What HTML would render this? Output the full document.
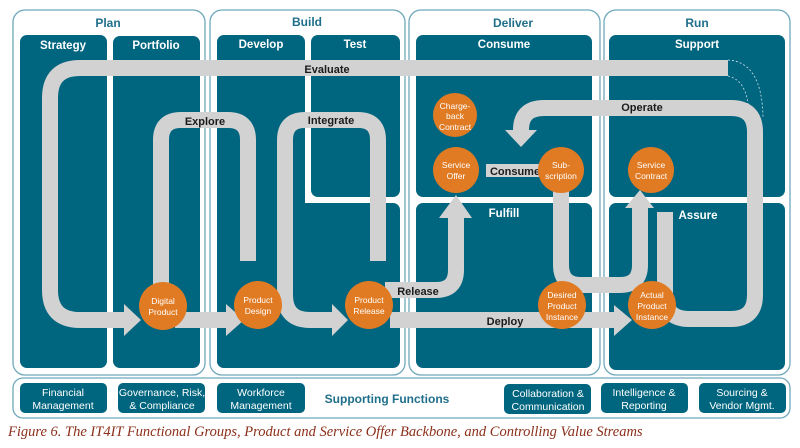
<!DOCTYPE html>
<html><head><meta charset="utf-8"><style>
body{margin:0;background:#fff;}
svg{display:block;}
.h{font-family:"Liberation Sans",sans-serif;font-weight:bold;font-size:12px;fill:#1f6f8b;text-anchor:middle;}
.p{font-family:"Liberation Sans",sans-serif;font-weight:bold;font-size:11.5px;fill:#fff;text-anchor:middle;}
.l{font-family:"Liberation Sans",sans-serif;font-weight:bold;font-size:11px;fill:#1a1a1a;text-anchor:middle;}
.c{font-family:"Liberation Sans",sans-serif;font-size:8.5px;fill:#fff;text-anchor:middle;}
.s{font-family:"Liberation Sans",sans-serif;font-size:10.5px;fill:#fff;text-anchor:middle;}
.band{fill:none;stroke:#d2d2d2;stroke-width:16;}
</style></head><body>
<svg width="800" height="448" viewBox="0 0 800 448">
<!-- group boxes -->
<g fill="#fff" stroke="#6fa9bb" stroke-width="1.3">
<rect x="13" y="10" width="192" height="140" rx="12" ry="12" style="display:none"/>
<rect x="13" y="10" width="192" height="365" rx="12"/>
<rect x="210" y="10" width="195" height="365" rx="12"/>
<rect x="409" y="10" width="191" height="365" rx="12"/>
<rect x="604" y="10" width="186" height="365" rx="12"/>
<rect x="13" y="378" width="777" height="40" rx="10"/>
</g>
<text class="h" x="108" y="27">Plan</text>
<text class="h" x="307" y="26">Build</text>
<text class="h" x="513" y="27">Deliver</text>
<text class="h" x="697" y="27">Run</text>
<!-- panels -->
<g fill="#00657e">
<rect x="20" y="35" width="87" height="333" rx="7"/>
<rect x="113" y="36" width="87" height="332" rx="7"/>
<rect x="217" y="35" width="88" height="333" rx="7"/>
<rect x="217" y="203" width="183" height="165" rx="7"/>
<rect x="311" y="35" width="89" height="162" rx="7"/>
<rect x="416" y="35" width="176" height="162" rx="7"/>
<rect x="416" y="203" width="176" height="165" rx="7"/>
<rect x="609" y="35" width="176" height="162" rx="7"/>
<rect x="609" y="203" width="176" height="167" rx="7"/>
</g>
<text class="p" x="63" y="49">Strategy</text>
<text class="p" x="156" y="49">Portfolio</text>
<text class="p" x="261" y="48">Develop</text>
<text class="p" x="355" y="48">Test</text>
<text class="p" x="504" y="48">Consume</text>
<text class="p" x="697" y="48">Support</text>
<text class="p" x="504" y="217">Fulfill</text>
<text class="p" x="698" y="219">Assure</text>
<!-- dashed arcs -->
<g fill="none" stroke="#cfe0e6" stroke-width="0.8" stroke-dasharray="2,2">
<path d="M728 60 Q762 62 763 117"/>
<path d="M728 76 Q745 80 748 104"/>
</g>
<!-- bands -->
<path class="band" d="M728 68 H80 Q50 68 50 98 V290 Q50 320 80 320 H126"/>
<path d="M124 304 L141 320 L124 336 Z" fill="#d2d2d2"/>
<path class="band" d="M175 320 H228"/>
<path d="M226 304 L244 320 L226 336 Z" fill="#d2d2d2"/>
<path class="band" d="M161 290 V140 Q161 120 181 120 H228 Q248 120 248 140 V261"/>
<path class="band" d="M378 261 V140 Q378 120 358 120 H305 Q285 120 285 140 V295 Q285 320 310 320 H334"/>
<path d="M332 304 L348 320 L332 336 Z" fill="#d2d2d2"/>
<path class="band" d="M385 290 H436 Q456 290 456 270 V216"/>
<path d="M439 218 L456 195 L472 218 Z" fill="#d2d2d2"/>
<path class="band" d="M390 320 H616"/>
<path d="M614 305 L632 320 L614 336 Z" fill="#d2d2d2"/>
<path class="band" d="M561 190 V265 Q561 285 581 285 H620 Q640 285 640 265 V206"/>
<path d="M625 208 L640 190 L654 208 Z" fill="#d2d2d2"/>
<path class="band" d="M665 212 V295 Q665 319 689 319 H731 Q755 319 755 295 V132 Q755 108 731 108 H544 Q521 108 521 130"/>
<path d="M505 130 L521 147 L537 130 Z" fill="#d2d2d2"/>
<rect x="486" y="164" width="54" height="13" fill="#d2d2d2"/>
<text class="l" x="327" y="73">Evaluate</text>
<text class="l" x="205" y="125">Explore</text>
<text class="l" x="331" y="124">Integrate</text>
<text class="l" x="642" y="111">Operate</text>
<text class="l" x="418" y="295">Release</text>
<text class="l" x="505" y="325">Deploy</text>
<text class="l" x="515" y="175">Consume</text>
<!-- circles -->
<g fill="#e07b24">
<circle cx="455" cy="115" r="22"/>
<circle cx="456" cy="170" r="23"/>
<circle cx="561" cy="170" r="23"/>
<circle cx="651" cy="170" r="23"/>
<circle cx="163" cy="306" r="24"/>
<circle cx="258" cy="305" r="24"/>
<circle cx="369" cy="305" r="24"/>
<circle cx="562" cy="305" r="24"/>
<circle cx="652" cy="305" r="24"/>
</g>
<text class="c" x="455" y="109">Charge-</text><text class="c" x="455" y="119">back</text><text class="c" x="455" y="130">Contract</text>
<text class="c" x="456" y="168">Service</text><text class="c" x="456" y="179">Offer</text>
<text class="c" x="561" y="168">Sub-</text><text class="c" x="561" y="179">scription</text>
<text class="c" x="651" y="168">Service</text><text class="c" x="651" y="179">Contract</text>
<text class="c" x="163" y="304">Digital</text><text class="c" x="163" y="315">Product</text>
<text class="c" x="258" y="303">Product</text><text class="c" x="258" y="314">Design</text>
<text class="c" x="369" y="303">Product</text><text class="c" x="369" y="314">Release</text>
<text class="c" x="562" y="298">Desired</text><text class="c" x="562" y="309">Product</text><text class="c" x="562" y="320">Instance</text>
<text class="c" x="652" y="298">Actual</text><text class="c" x="652" y="309">Product</text><text class="c" x="652" y="320">Instance</text>
<!-- supporting -->
<g fill="#00657e">
<rect x="20" y="383" width="87" height="30" rx="5"/>
<rect x="118" y="383" width="87" height="30" rx="5"/>
<rect x="217" y="383" width="88" height="30" rx="5"/>
<rect x="504" y="384" width="87" height="30" rx="5"/>
<rect x="601" y="383" width="87" height="30" rx="5"/>
<rect x="699" y="383" width="87" height="30" rx="5"/>
</g>
<text class="s" x="63" y="396">Financial</text><text class="s" x="63" y="409">Management</text>
<text class="s" x="162" y="396">Governance, Risk,</text><text class="s" x="162" y="409">&amp; Compliance</text>
<text class="s" x="261" y="396">Workforce</text><text class="s" x="261" y="409">Management</text>
<text class="h" x="387" y="403">Supporting Functions</text>
<text class="s" x="548" y="397">Collaboration &amp;</text><text class="s" x="548" y="410">Communication</text>
<text class="s" x="644" y="396">Intelligence &amp;</text><text class="s" x="644" y="409">Reporting</text>
<text class="s" x="742" y="396">Sourcing &amp;</text><text class="s" x="742" y="409">Vendor Mgmt.</text>
<text x="8" y="436" font-family="Liberation Serif,serif" font-style="italic" font-size="14.5" fill="#8b2f1a">Figure 6. The IT4IT Functional Groups, Product and Service Offer Backbone, and Controlling Value Streams</text>
</svg>
</body></html>
